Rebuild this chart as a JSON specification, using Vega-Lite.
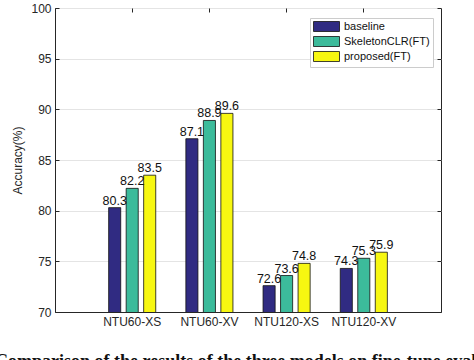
{
  "$schema": "https://vega.github.io/schema/vega-lite/v6.json",
  "autosize": {"type": "none"},
  "width": 386,
  "height": 304,
  "padding": {"left": 55, "top": 8, "right": 33, "bottom": 48},
  "background": "white",
  "config": {
    "font": "Liberation Sans",
    "view": {"stroke": "#262626", "strokeWidth": 1},
    "axis": {"labelFont": "Liberation Sans", "titleFont": "Liberation Sans", "labelColor": "#262626", "titleColor": "#262626", "domainColor": "#262626", "tickColor": "#262626"}
  },
  "title": {
    "text": "Comparison of the results of the three models on fine-tune evaluation",
    "orient": "bottom",
    "anchor": "start",
    "frame": "group",
    "dx": -60,
    "offset": 26,
    "font": "Liberation Serif",
    "fontSize": 18,
    "fontWeight": "bold",
    "color": "#111111",
    "baseline": "top"
  },
  "data": {
    "values": [
      {"dataset": "NTU60-XS", "model": "baseline", "acc": 80.3},
      {"dataset": "NTU60-XS", "model": "SkeletonCLR(FT)", "acc": 82.2},
      {"dataset": "NTU60-XS", "model": "proposed(FT)", "acc": 83.5},
      {"dataset": "NTU60-XV", "model": "baseline", "acc": 87.1},
      {"dataset": "NTU60-XV", "model": "SkeletonCLR(FT)", "acc": 88.9},
      {"dataset": "NTU60-XV", "model": "proposed(FT)", "acc": 89.6},
      {"dataset": "NTU120-XS", "model": "baseline", "acc": 72.6},
      {"dataset": "NTU120-XS", "model": "SkeletonCLR(FT)", "acc": 73.6},
      {"dataset": "NTU120-XS", "model": "proposed(FT)", "acc": 74.8},
      {"dataset": "NTU120-XV", "model": "baseline", "acc": 74.3},
      {"dataset": "NTU120-XV", "model": "SkeletonCLR(FT)", "acc": 75.3},
      {"dataset": "NTU120-XV", "model": "proposed(FT)", "acc": 75.9}
    ]
  },
  "encoding": {
    "x": {
      "field": "dataset", "type": "nominal",
      "sort": ["NTU60-XS", "NTU60-XV", "NTU120-XS", "NTU120-XV"],
      "scale": {"paddingInner": 0.39, "paddingOuter": 0.695}
    },
    "xOffset": {
      "field": "model", "type": "nominal",
      "sort": ["baseline", "SkeletonCLR(FT)", "proposed(FT)"],
      "scale": {"paddingInner": 0.31, "paddingOuter": 0}
    },
    "y": {
      "field": "acc", "type": "quantitative",
      "scale": {"domain": [70, 100], "nice": false, "zero": false}
    }
  },
  "layer": [
    {
      "mark": {"type": "bar", "stroke": "#111111", "strokeWidth": 0.8, "clip": true},
      "encoding": {
        "x": {
          "field": "dataset", "type": "nominal",
          "sort": ["NTU60-XS", "NTU60-XV", "NTU120-XS", "NTU120-XV"],
          "scale": {"paddingInner": 0.39, "paddingOuter": 0.695},
          "axis": {"title": null, "labelAngle": 0, "labelFontSize": 12, "tickSize": -4, "labelPadding": 8, "domain": true, "grid": false}
        },
        "y": {
          "field": "acc", "type": "quantitative",
          "scale": {"domain": [70, 100], "nice": false, "zero": false},
          "axis": {"title": "Accuracy(%)", "titleFontSize": 12, "titleFontWeight": "normal", "titlePadding": 6, "labelFontSize": 12, "tickSize": -4, "labelPadding": 8, "values": [70, 75, 80, 85, 90, 95, 100], "gridColor": "#e4e4e4", "grid": true}
        },
        "color": {
          "field": "model", "type": "nominal",
          "sort": ["baseline", "SkeletonCLR(FT)", "proposed(FT)"],
          "scale": {"domain": ["baseline", "SkeletonCLR(FT)", "proposed(FT)"], "range": ["#302b82", "#3cbb9b", "#f7f711"]},
          "legend": {
            "title": null,
            "orient": "none",
            "legendX": 255,
            "legendY": 10,
            "fillColor": "white",
            "strokeColor": "#cccccc",
            "padding": 3,
            "symbolType": "M-1,-1h5.2v2h-5.2Z",
            "symbolSize": 100,
            "symbolStrokeColor": "#111111",
            "symbolStrokeWidth": 0.8,
            "symbolOpacity": 1,
            "labelFontSize": 11,
            "labelColor": "#111111",
            "labelOffset": 20,
            "rowPadding": 0
          }
        }
      }
    },
    {
      "mark": {"type": "text", "baseline": "alphabetic", "dy": -3, "fontSize": 12.5, "color": "#111111"},
      "encoding": {
        "x": {
          "field": "dataset", "type": "nominal",
          "sort": ["NTU60-XS", "NTU60-XV", "NTU120-XS", "NTU120-XV"],
          "scale": {"paddingInner": 0.39, "paddingOuter": 0.695},
          "axis": {"orient": "top", "title": null, "labels": false, "tickSize": -4, "domain": false, "grid": false}
        },
        "y": {
          "field": "acc", "type": "quantitative",
          "scale": {"domain": [70, 100], "nice": false, "zero": false},
          "axis": {"orient": "right", "title": null, "labels": false, "tickSize": -4, "values": [70, 75, 80, 85, 90, 95, 100], "domain": false, "grid": false}
        },
        "text": {"field": "acc", "type": "quantitative", "format": ".1f"}
      }
    }
  ],
  "resolve": {"axis": {"x": "independent", "y": "independent"}}
}
